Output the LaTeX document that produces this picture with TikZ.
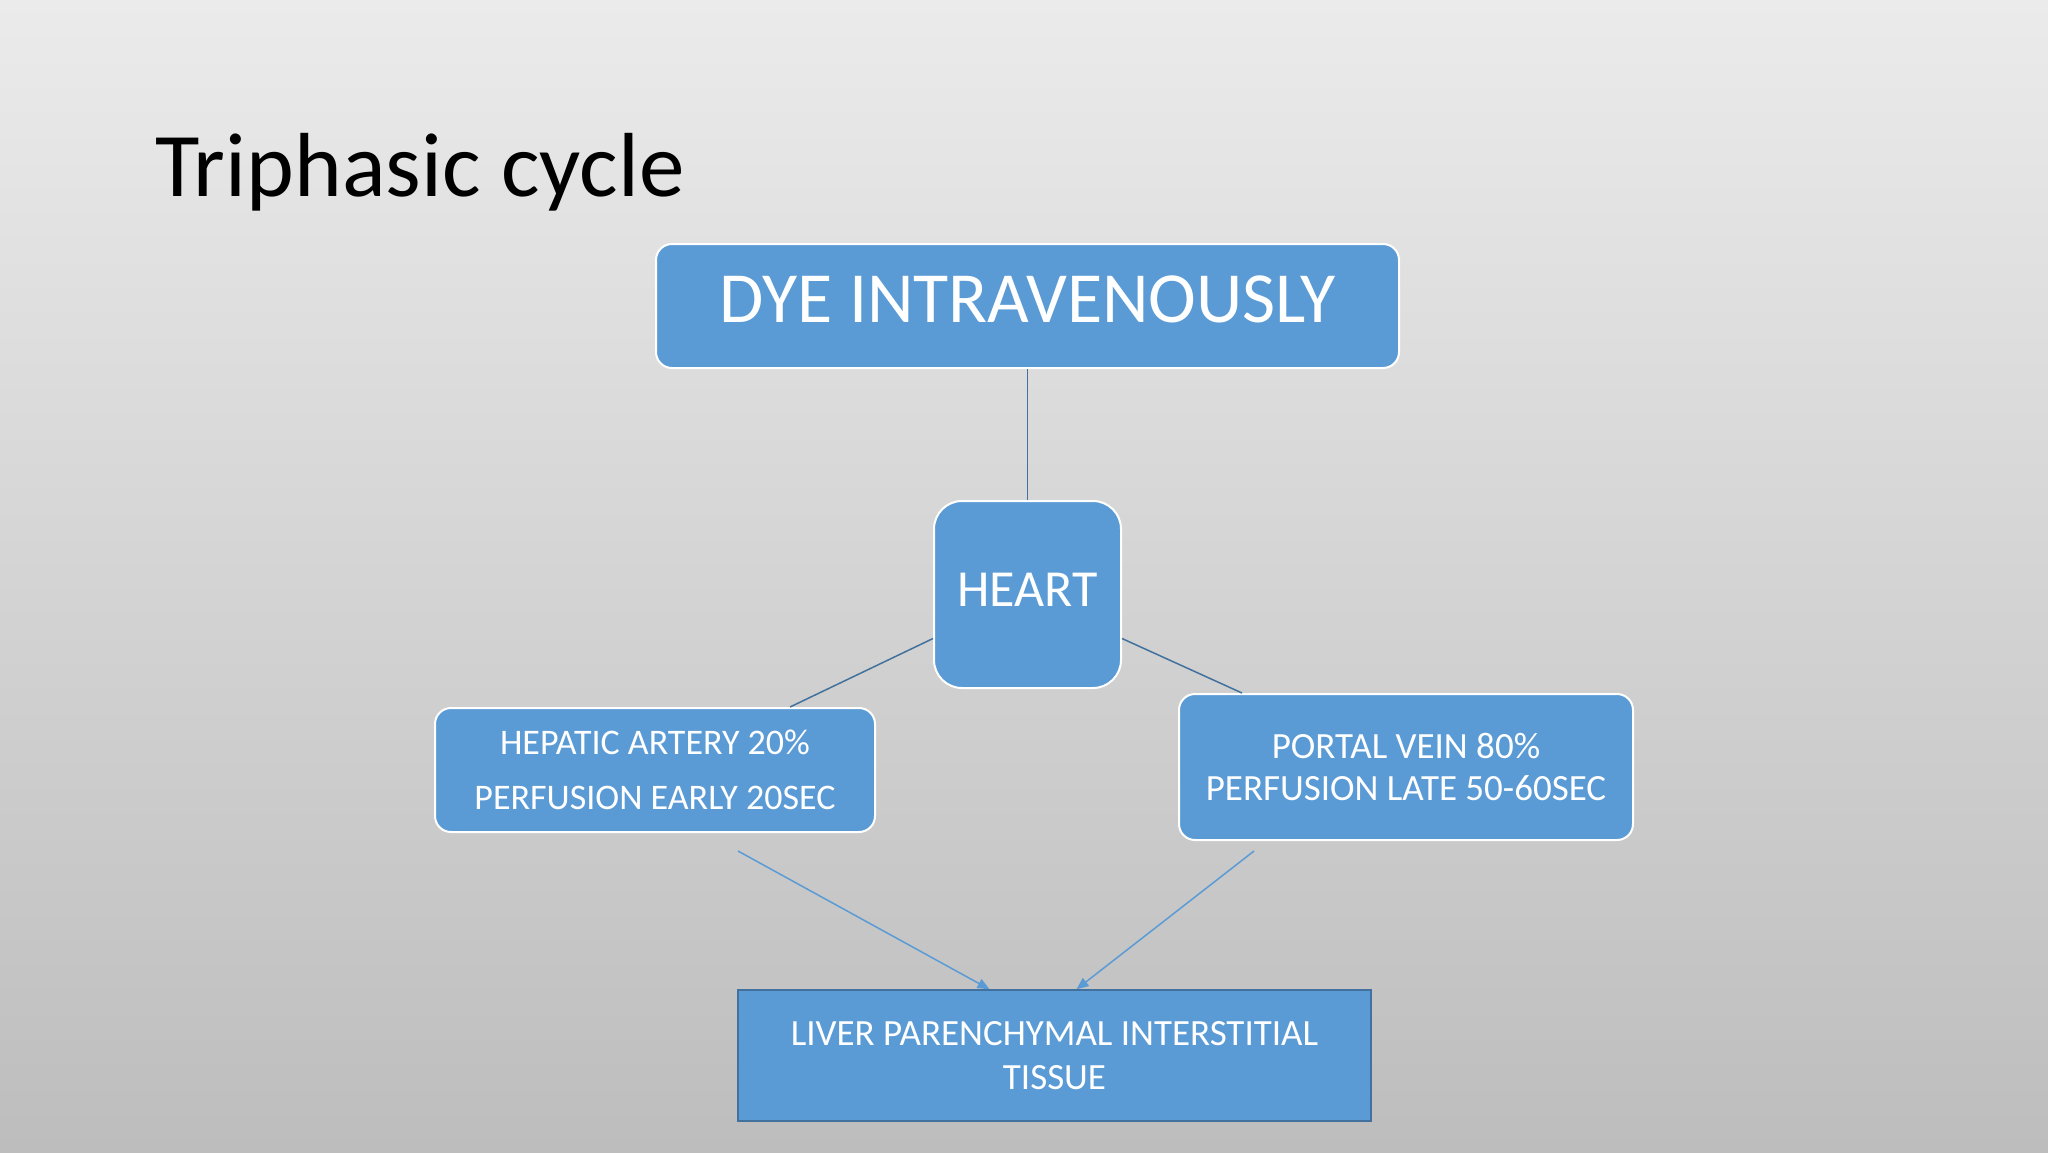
\documentclass[tikz,border=0pt]{standalone}
\usepackage{fontspec}
\setmainfont{Carlito}
\usetikzlibrary{arrows.meta,calc}
\definecolor{boxblue}{HTML}{5B9BD5}
\definecolor{lineblue}{HTML}{41719C}
\definecolor{bgtop}{HTML}{EBEBEB}
\definecolor{bgmid}{HTML}{E0E0E0}
\definecolor{bgbot}{HTML}{BDBDBD}
\begin{document}
\begin{tikzpicture}[x=1pt,y=-1pt,
 rbox/.style={draw=white, line width=2pt, fill=boxblue, rounded corners=16pt, text=white, align=center, inner sep=0pt},
 sbox/.style={draw=lineblue, line width=1.5pt, fill=boxblue, text=white, align=center, inner sep=0pt},
 link/.style={draw=lineblue, line width=1.5pt},
 flow/.style={draw=boxblue, line width=1.5pt, -{Triangle[length=12pt,width=10pt]}}]
\useasboundingbox (0,0) rectangle (2048,1152);
\shade[top color=bgtop, middle color=bgmid, bottom color=bgbot] (0,0) rectangle (2048,1152);
\node[anchor=base west, inner sep=0pt, font=\fontsize{91}{100}\selectfont] (title) at (155,196) {Triphasic cycle};
\node[rbox, minimum width=743pt, minimum height=124pt, text depth=14pt, font=\fontsize{72}{80}\selectfont] (dye) at (1027.5,306) {DYE INTRAVENOUSLY};
\node[rbox, rounded corners=28pt, minimum width=187pt, minimum height=187pt, text depth=9pt, font=\fontsize{52}{60}\selectfont] (heart) at (1027.5,594.5) {HEART};
\node[rbox, minimum width=440pt, minimum height=124pt, font=\fontsize{36}{55}\selectfont] (hep) at (655,770) {HEPATIC ARTERY 20\%\\PERFUSION EARLY 20SEC};
\node[rbox, minimum width=454pt, minimum height=146pt, font=\fontsize{37}{42}\selectfont] (portal) at (1406,767) {PORTAL VEIN 80\%\\PERFUSION LATE 50-60SEC};
\node[sbox, minimum width=633pt, minimum height=131pt, font=\fontsize{37}{44}\selectfont] (liver) at (1054.5,1055.5) {LIVER PARENCHYMAL INTERSTITIAL\\TISSUE};
\draw[link] (dye.south) -- (heart.north);
\draw[link] ($(heart.west)+(0,44)$) -- ($(hep.north)+(135,0)$);
\draw[link] ($(heart.east)+(0,44)$) -- ($(portal.north)+(-164,0)$);
\draw[flow] ($(hep.south)+(83,18)$) -- ($(liver.north)+(-65,0)$);
\draw[flow] ($(portal.south)+(-152,10)$) -- ($(liver.north)+(22,0)$);
\end{tikzpicture}
\end{document}
